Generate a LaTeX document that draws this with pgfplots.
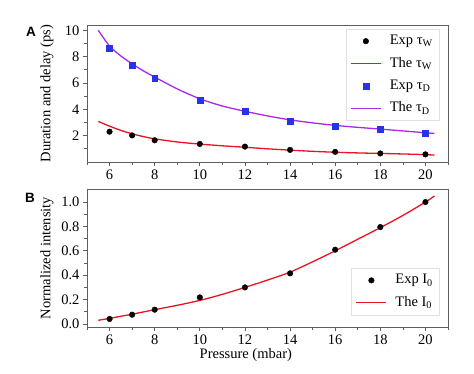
\documentclass[border=0pt]{standalone}
\usepackage{fontspec}
\setmainfont{Liberation Serif}
\newfontfamily\arialfont{Liberation Sans}
\usepackage{pgfplots}
\pgfplotsset{compat=1.18}
\definecolor{cred}{RGB}{232,20,35}
\definecolor{cpurple}{RGB}{170,40,235}
\definecolor{cblue}{RGB}{40,50,230}
\definecolor{axgray}{RGB}{95,95,95}
\newcommand{\fs}{\fontsize{14.5}{16}\selectfont}
\pgfplotsset{
  myaxis/.style={
    scale only axis, width=361pt,
    xmin=5, xmax=21, xtick={6,8,...,20}, minor xtick={5,7,...,21},
    tick align=outside, major tick length=4pt, minor tick length=2.5pt,
    axis line style={axgray, line width=0.8pt},
    every tick/.style={axgray, line width=0.7pt},
    xtick pos=left, ytick pos=left,
    /pgf/number format/assume math mode=true,
    tick label style={font=\fs},
    legend style={font=\fs, draw=black!12, inner xsep=4pt, inner ysep=2.5pt,
      row sep=3.4pt, nodes={text height=11pt, text depth=4pt}},
    legend cell align=left,
    every axis y label/.style={at={(axis description cs:-0.111,0.5)}, rotate=90, anchor=center, font=\fs},
  },
  dotleg/.style={legend image code/.code={\path[draw=none,fill=none] (0pt,0pt) -- (37pt,0pt); \fill[black] (15pt,0pt) circle (2.8pt);}},
  sqleg/.style={legend image code/.code={\path[draw=none,fill=none] (0pt,0pt) -- (37pt,0pt); \fill[cblue] (12.1pt,-2.9pt) rectangle (17.9pt,2.9pt);}},
  redleg/.style={legend image code/.code={\path[draw=none,fill=none] (0pt,0pt) -- (37pt,0pt); \draw[draw=cred, line width=1.4pt] (0pt,0pt) -- (30pt,0pt);}},
  purleg/.style={legend image code/.code={\path[draw=none,fill=none] (0pt,0pt) -- (37pt,0pt); \draw[draw=cpurple, line width=1.4pt] (0pt,0pt) -- (30pt,0pt);}},
}
\begin{document}
\begin{tikzpicture}
\useasboundingbox (0pt,0pt) rectangle (474pt,373pt);
% ---------- Panel A ----------
\begin{axis}[myaxis, at={(87pt,211pt)}, anchor=south west, height=137pt,
  ymin=0, ymax=10.4, ytick={2,4,6,8,10}, minor ytick={1,3,5,7,9},
  ylabel={Duration and delay (ps)},
  legend style={at={(rel axis cs:0.975,0.971)}, anchor=north east}]
\addplot[only marks, mark=*, mark size=2.8pt, black, dotleg] coordinates {
 (6,2.30) (7,2.02) (8,1.65) (10,1.37) (12,1.17) (14,0.92) (16,0.77) (18,0.65) (20,0.58)};
\addlegendentry{Exp τ\textsubscript{W}}
\addplot[cred, line width=1.3pt, smooth, redleg] coordinates {
 (5.5,3.08) (6,2.72) (6.5,2.40) (7,2.14) (7.5,1.93) (8,1.76) (9,1.52) (10,1.36) (11,1.23)
 (12,1.12) (13,1.00) (14,0.90) (15,0.81) (16,0.74) (17,0.69) (18,0.65) (19,0.61) (20,0.56) (20.4,0.52)};
\addlegendentry{The τ\textsubscript{W}}
\addplot[only marks, mark=square*, mark size=2.9pt, cblue, sqleg] coordinates {
 (6,8.66) (7,7.36) (8,6.35) (10,4.69) (12,3.83) (14,3.08) (16,2.73) (18,2.48) (20,2.20)};
\addlegendentry{Exp τ\textsubscript{D}}
\addplot[cpurple, line width=1.3pt, smooth, purleg] coordinates {
 (5.5,10.0) (6,8.80) (6.5,8.05) (7,7.45) (7.5,6.92) (8,6.45) (9,5.55) (10,4.80) (11,4.25)
 (12,3.85) (13,3.50) (14,3.20) (15,2.97) (16,2.78) (17,2.63) (18,2.50) (19,2.36) (20,2.22) (20.4,2.17)};
\addlegendentry{The τ\textsubscript{D}}
\end{axis}
% ---------- Panel B ----------
\begin{axis}[myaxis, at={(87pt,46pt)}, anchor=south west, height=138pt,
  ymin=-0.025, ymax=1.107, ytick={0,0.2,...,1.0}, minor ytick={0.1,0.3,...,0.9},
  yticklabel style={/pgf/number format/.cd, fixed, fixed zerofill, precision=1},
  ylabel={Normalized intensity},
  xlabel={Pressure (mbar)},
  every axis x label/.style={at={(axis description cs:0.44,0)}, yshift=-28pt, anchor=center, font=\fs},
  legend style={at={(rel axis cs:0.975,0.087)}, anchor=south east}]
\addplot[only marks, mark=*, mark size=2.8pt, black, dotleg] coordinates {
 (6,0.041) (7,0.076) (8,0.117) (10,0.218) (12,0.300) (14,0.415) (16,0.609) (18,0.795) (20,1.0)};
\addlegendentry{Exp I\textsubscript{0}}
\addplot[cred, line width=1.3pt, smooth, redleg] coordinates {
 (5.5,0.030) (6,0.046) (7,0.080) (8,0.117) (9,0.153) (10,0.193) (11,0.243) (12,0.300)
 (13,0.360) (14,0.425) (15,0.510) (16,0.600) (17,0.695) (18,0.790) (19,0.890) (20,1.0) (20.4,1.05)};
\addlegendentry{The I\textsubscript{0}}
\end{axis}
\node[font=\arialfont\bfseries\fontsize{13.5}{15}\selectfont] at (31pt,341pt) {A};
\node[font=\arialfont\bfseries\fontsize{13.5}{15}\selectfont] at (30pt,175pt) {B};
\end{tikzpicture}
\end{document}
